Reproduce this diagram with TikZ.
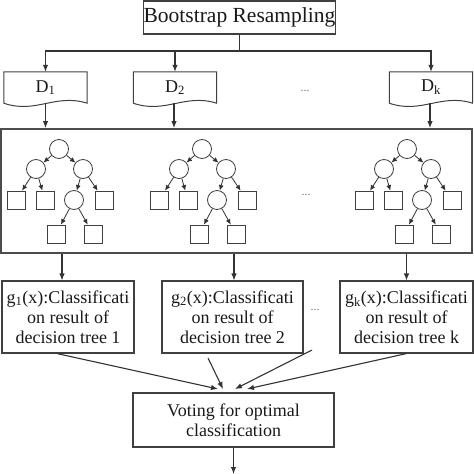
\documentclass[tikz,border=0pt]{standalone}
\usepackage{fontspec}
\setmainfont{Liberation Serif}
\usetikzlibrary{arrows.meta,calc}
\begin{document}
\begin{tikzpicture}[x=1pt,y=-1pt,
  txt/.style={font=\fontsize{18}{20}\selectfont, text=black!90},
  box/.style={draw=black!75, line width=1.1pt, txt, align=center, inner sep=0pt},
  docbox/.style={txt, inner sep=0pt, minimum width=83pt, minimum height=31pt},
  docline/.style={draw=black!75, line width=1pt},
  arr/.style={draw=black!80, line width=1.1pt, -{Latex[length=7pt,width=5.5pt]}},
  ln/.style={draw=black!80, line width=1.1pt},
  tarr/.style={draw=black!80, line width=0.8pt, -{Latex[length=5.5pt,width=5pt]}},
  tcirc/.style={circle, draw=black!75, line width=0.8pt, minimum size=19pt, inner sep=0pt},
  tsq/.style={rectangle, draw=black!75, line width=0.8pt, minimum size=18pt, inner sep=0pt},
  dots/.style={font=\fontsize{12}{12}\selectfont, text=black!55}
]
\useasboundingbox (0,0) rectangle (474,474);

% top box
\node[box, minimum width=169pt, minimum height=33pt, font=\fontsize{21.5}{24}\selectfont] (boot) at (239.5,17.5) {Bootstrap Resampling};

% documents
\node[docbox] (d1) at (45.5,87.5) {D\textsubscript{1}};
\node[docbox] (d2) at (175,87.5) {D\textsubscript{2}};
\node[docbox] (dk) at (431,87.5) {D\textsubscript{k}};
\foreach \d in {d1,d2,dk}{
  \draw[docline] (\d.north west) -- (\d.north east) -- (\d.south east)
    .. controls +(-32,-10) and +(32,11) .. (\d.south west) -- cycle;
}
\node[dots] (ddots) at (305,91) {...};

% branching
\coordinate (bj) at (239.5,51);
\draw[ln] (boot.south) -- (bj);
\draw[arr] (bj) -| (d1.north);
\draw[arr] (bj) -| (d2.north);
\draw[arr] (bj) -| (dk.north);

% forest box
\node[draw=black!70, line width=1.8pt, minimum width=471pt, minimum height=124pt, inner sep=0pt] (forest) at (236.5,191) {};
\draw[arr] (d1.south) -- (d1.south |- forest.north);
\draw[arr] ([xshift=-1pt]d2.south) -- ([xshift=-1pt]d2.south |- forest.north);
\draw[arr] ([xshift=-1pt]dk.south) -- ([xshift=-1pt]dk.south |- forest.north);

% trees
\foreach \i/\ox in {1/0,2/143,3/348}{
  \begin{scope}[xshift=\ox pt]
    \node[tcirc] (r\i) at (59,149) {};
    \node[tcirc] (l\i) at (36,169) {};
    \node[tcirc] (q\i) at (83,169) {};
    \node[tsq] (sa\i) at (16,200) {};
    \node[tsq] (sb\i) at (45,200) {};
    \node[tcirc] (c\i) at (74,200) {};
    \node[tsq] (sc\i) at (104,200) {};
    \node[tsq] (sd\i) at (56,234) {};
    \node[tsq] (se\i) at (93,234) {};
    \draw[tarr] (r\i) -- (l\i);
    \draw[tarr] (r\i) -- (q\i);
    \draw[tarr] (l\i) -- (sa\i);
    \draw[tarr] (l\i) -- (sb\i);
    \draw[tarr] (q\i) -- (c\i);
    \draw[tarr] (q\i) -- (sc\i);
    \draw[tarr] (c\i) -- (sd\i);
    \draw[tarr] (c\i) -- (se\i);
  \end{scope}
}
\node[dots] (fdots) at (306,195) {...};

% classification boxes
\node[box, minimum width=132pt, minimum height=72pt] (g1) at (68,317) {g\textsubscript{1}(x):Classificati\\on result of\\decision tree 1};
\node[box, minimum width=141pt, minimum height=72pt] (g2) at (232.5,317) {g\textsubscript{2}(x):Classificati\\on result of\\decision tree 2};
\node[box, minimum width=133pt, minimum height=72pt] (gk) at (406.5,317) {g\textsubscript{k}(x):Classificati\\on result of\\decision tree k};
\node[dots] (gdots) at (315,310) {...};

\draw[arr] ([xshift=-6pt]g1.north |- forest.south) -- ([xshift=-6pt]g1.north);
\draw[arr] ([xshift=1.5pt]g2.north |- forest.south) -- ([xshift=1.5pt]g2.north);
\draw[arr] (gk.north |- forest.south) -- (gk.north);

% voting box
\node[box, minimum width=201pt, minimum height=54pt] (vote) at (233.5,420) {Voting for optimal\\classification};

\coordinate (s2) at (208,358);
\coordinate (s3) at (312,350);
\draw[arr] ([xshift=-11pt]g1.south) -- ([xshift=-15.5pt]vote.north |- 0,389);
\draw[arr] (s2) -- ([xshift=-10.5pt]vote.north |- 0,389);
\draw[arr] (s3) -- ([xshift=1.5pt]vote.north |- 0,389);
\draw[arr] (gk.south) -- ([xshift=13.5pt]vote.north |- 0,389);

\coordinate (out) at (233.5,474);
\draw[arr] (vote.south) -- (out);
\end{tikzpicture}
\end{document}
